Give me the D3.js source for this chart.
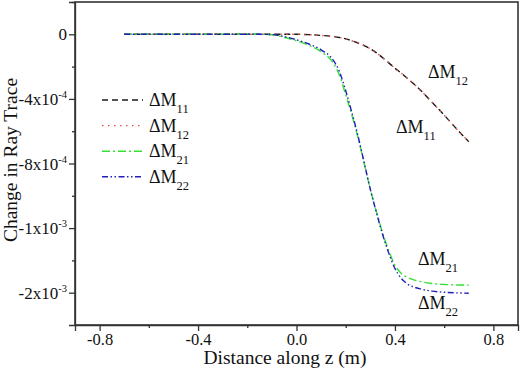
<!DOCTYPE html>
<html>
<head>
<meta charset="utf-8">
<script src="https://cdn.jsdelivr.net/npm/d3@7"></script>
<style>
	body { margin: 0; background: #fff; }
	svg text { font-family: 'Liberation Serif', 'Times New Roman', Times, 'DejaVu Serif', serif; fill: #111; }
</style>
</head>
<body>
<svg id="chart"></svg>
<script>
// distance along z (m)
var xValues = [-0.7, -0.6, -0.5, -0.4, -0.3, -0.2, -0.15, -0.1, -0.05, 0, 0.05, 0.1, 0.15, 0.175, 0.2,
	0.225, 0.25, 0.275, 0.3, 0.325, 0.35, 0.375, 0.4, 0.425, 0.45, 0.5, 0.55, 0.6, 0.65, 0.7];

var m11 = [0, 0, 0, 0, 0, 0, 0, 0, 0, 0, -0.02e-4, -0.07e-4, -0.14e-4, -0.2e-4, -0.28e-4,
	-0.4e-4, -0.54e-4, -0.7e-4, -0.9e-4, -1.15e-4, -1.45e-4, -1.77e-4, -2.1e-4, -2.4e-4, -2.72e-4,
	-3.4e-4, -4.2e-4, -5.0e-4, -5.85e-4, -6.65e-4];
var m12 = [0, 0, 0, 0, 0, 0, 0, 0, 0, 0, -0.02e-4, -0.07e-4, -0.14e-4, -0.2e-4, -0.28e-4,
	-0.4e-4, -0.54e-4, -0.7e-4, -0.9e-4, -1.15e-4, -1.45e-4, -1.77e-4, -2.1e-4, -2.4e-4, -2.72e-4,
	-3.4e-4, -4.2e-4, -5.0e-4, -5.85e-4, -6.65e-4];
var m21 = [0, 0, 0, 0, 0, 0, 0, -0.03e-4, -0.18e-4, -0.4e-4, -0.68e-4, -1.08e-4, -1.8e-4, -2.55e-4, -3.75e-4,
	-5.0e-4, -6.4e-4, -8.0e-4, -9.6e-4, -1.1e-3, -1.23e-3, -1.34e-3, -1.43e-3, -1.48e-3, -1.505e-3,
	-1.53e-3, -1.543e-3, -1.549e-3, -1.552e-3, -1.553e-3];
var m22 = [0, 0, 0, 0, 0, 0, 0, -0.02e-4, -0.14e-4, -0.34e-4, -0.6e-4, -0.96e-4, -1.62e-4, -2.33e-4, -3.5e-4,
	-4.85e-4, -6.3e-4, -7.95e-4, -9.6e-4, -1.105e-3, -1.24e-3, -1.355e-3, -1.45e-3, -1.51e-3, -1.545e-3,
	-1.575e-3, -1.59e-3, -1.597e-3, -1.601e-3, -1.603e-3];

var seriesNames = ['11', '12', '21', '22'];

var xTicks = [-0.8, -0.4, 0, 0.4, 0.8];
var xTickLabels = ['-0.8', '-0.4', '0.0', '0.4', '0.8'];
var xMinorTicks = [-0.6, -0.2, 0.2, 0.6];
var yTicks = [0, -4e-4, -8e-4, -1.2e-3, -1.6e-3];
var yTickBase = ['0', '-4x10', '-8x10', '-1x10', '-2x10'];
var yTickExp = ['', '-4', '-4', '-3', '-3'];
var yMinorTicks = [2e-4, -2e-4, -6e-4, -1e-3, -1.4e-3];

var serif = "'Liberation Serif', 'Times New Roman', Times, 'DejaVu Serif', serif";

function makeChart() {
	let w = 520;
	let h = 369;
	let left = 75, right = 518, top = 2, bottom = 325;

	let svg = d3.select('#chart')
		.attr('width', w)
		.attr('height', h)
		.attr('font-family', serif);

	let x = d3.scaleLinear().domain([-0.9, 0.9]).range([left, right]);
	let y = d3.scaleLinear().domain([-1.8e-3, 2e-4]).range([bottom, top]);

	var styles = [
		{ color: '#1a1a1a', dash: '6,4' },
		{ color: '#e0504a', dash: '1.5,4.5' },
		{ color: '#33e033', dash: '8,3,2,3' },
		{ color: '#2020b8', dash: '6,2.5,1.5,2.5,1.5,2.5' }
	];
	var allSeries = [m11, m12, m21, m22];

	// axes
	let xAxis = svg.append('g')
		.attr('transform', 'translate(0,' + bottom + ')')
		.call(d3.axisBottom(x).tickValues(xTicks).tickSize(6).tickFormat((d, i) => xTickLabels[i]))
		.attr('font-family', serif)
		.attr('font-size', 16.5);
	svg.append('g')
		.attr('transform', 'translate(0,' + bottom + ')')
		.call(d3.axisBottom(x).tickValues(xMinorTicks).tickSize(3).tickFormat(''))
		.select('.domain').remove();
	xAxis.selectAll('text')
		.attr('dy', null)
		.attr('y', 19.5)
		.attr('fill', '#111');

	svg.append('g')
		.attr('transform', 'translate(' + left + ',0)')
		.call(d3.axisLeft(y).tickValues(yTicks).tickSize(6).tickFormat(''));
	svg.append('g')
		.attr('transform', 'translate(' + left + ',0)')
		.call(d3.axisLeft(y).tickValues(yMinorTicks).tickSize(3).tickFormat(''))
		.select('.domain').remove();

	svg.selectAll('.domain, .tick line')
		.style('stroke', '#333')
		.style('stroke-width', 1.3);

	let yLabels = svg.selectAll('.ylab')
		.data(yTicks)
		.enter()
		.append('text')
		.classed('ylab', true)
		.attr('x', left - 8)
		.attr('y', d => y(d) + 6)
		.style('text-anchor', 'end')
		.style('font-size', '17px');
	yLabels.append('tspan')
		.text((d, i) => yTickBase[i]);
	yLabels.append('tspan')
		.attr('dy', -7)
		.style('font-size', '10.5px')
		.text((d, i) => yTickExp[i]);

	// frame
	svg.append('rect')
		.attr('x', left)
		.attr('y', top)
		.attr('width', right - left)
		.attr('height', bottom - top)
		.style('fill', 'none')
		.style('stroke', '#333')
		.style('stroke-width', 1.6);

	// curves
	let line = d3.line()
		.x((d, i) => x(xValues[i]))
		.y(d => y(d))
		.curve(d3.curveMonotoneX);

	svg.selectAll('.curve')
		.data(allSeries)
		.enter()
		.append('path')
		.classed('curve', true)
		.attr('d', d => line(d))
		.style('fill', 'none')
		.style('stroke', (d, i) => styles[i].color)
		.style('stroke-width', 1.4)
		.style('stroke-dasharray', (d, i) => styles[i].dash);

	// legend
	let legend = svg.selectAll('.legend')
		.data(seriesNames)
		.enter()
		.append('g')
		.classed('legend', true)
		.attr('transform', (d, i) => 'translate(0,' + (100 + i * 25.6) + ')');
	legend.append('line')
		.attr('x1', 102)
		.attr('x2', 143)
		.attr('y1', 0)
		.attr('y2', 0)
		.style('stroke', (d, i) => styles[i].color)
		.style('stroke-width', 1.4)
		.style('stroke-dasharray', (d, i) => styles[i].dash);
	let legendText = legend.append('text')
		.attr('x', 149)
		.attr('y', 6)
		.style('font-size', '18px');
	legendText.append('tspan').text('\u0394M');
	legendText.append('tspan')
		.attr('dy', 7)
		.style('font-size', '12.5px')
		.text(d => d);

	// curve annotations
	var notes = [
		{ name: '12', x: 428, y: 78 },
		{ name: '11', x: 396, y: 133 },
		{ name: '21', x: 418, y: 265 },
		{ name: '22', x: 418, y: 309 }
	];
	let noteText = svg.selectAll('.note')
		.data(notes)
		.enter()
		.append('text')
		.classed('note', true)
		.attr('x', d => d.x)
		.attr('y', d => d.y)
		.style('font-size', '18px');
	noteText.append('tspan').text('\u0394M');
	noteText.append('tspan')
		.attr('dy', 7)
		.style('font-size', '12.5px')
		.text(d => d.name);

	// axis titles
	svg.append('text')
		.attr('x', 285)
		.attr('y', 364)
		.style('text-anchor', 'middle')
		.style('font-size', '19.5px')
		.text('Distance along z (m)');
	svg.append('text')
		.attr('transform', 'translate(17,160) rotate(-90)')
		.style('text-anchor', 'middle')
		.style('font-size', '19.5px')
		.text('Change in Ray Trace');
}

window.onload = function () {
	makeChart();
}
</script>
</body>
</html>
